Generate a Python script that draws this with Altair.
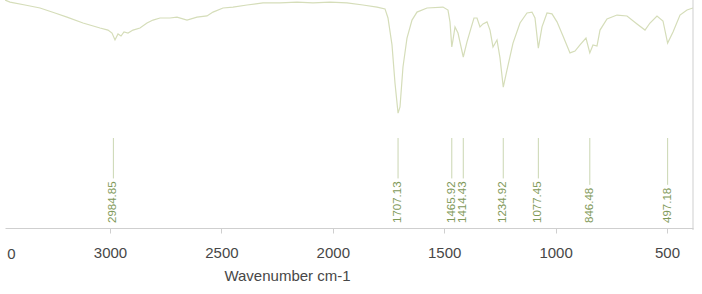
import altair as alt
import pandas as pd

# Spectrum (wavenumber cm-1, transmittance %)
wavenumber = [3471.3, 3448.8, 3381.5, 3314.2, 3246.9, 3193.0, 3121.2, 3044.9, 3009.0, 2991.0,
              2977.6, 2964.1, 2950.6, 2937.2, 2919.2, 2896.8, 2865.4, 2834.0, 2807.0, 2775.6,
              2730.7, 2699.3, 2654.4, 2609.5, 2564.6, 2537.7, 2492.8, 2447.9, 2385.1, 2313.3,
              2237.0, 2160.7, 2088.9, 2012.6, 1936.3, 1864.5, 1801.6, 1765.7, 1752.3, 1734.3,
              1720.9, 1707.13, 1698.4, 1685.0, 1667.0, 1644.5, 1622.1, 1577.2, 1505.4, 1483.0,
              1474.0, 1465.92, 1460.5, 1451.5, 1438.1, 1414.43, 1397.7, 1379.7, 1366.3, 1352.8,
              1339.3, 1325.9, 1307.9, 1294.4, 1281.0, 1263.0, 1249.6, 1234.92, 1218.1, 1191.2,
              1159.8, 1128.4, 1105.9, 1092.5, 1077.45, 1061.0, 1038.6, 1016.2, 993.7, 966.8,
              935.4, 912.9, 890.5, 863.6, 846.48, 832.2, 814.2, 800.7, 769.3, 724.4,
              679.5, 634.6, 598.7, 576.3, 544.9, 518.0, 497.18, 473.0, 441.6, 410.2, 383.3]
transmittance = [100.0, 99.1, 97.8, 96.5, 94.3, 92.5, 89.9, 87.7, 86.8, 85.5,
                 82.5, 85.1, 84.2, 86.0, 85.5, 86.8, 87.7, 89.9, 91.2, 92.1,
                 92.1, 92.5, 91.2, 92.5, 93.0, 94.7, 96.5, 96.9, 97.8, 98.7,
                 98.7, 99.1, 98.7, 99.1, 98.7, 97.8, 96.9, 96.1, 92.1, 80.3,
                 63.6, 50.4, 53.1, 70.6, 83.3, 91.2, 94.7, 96.5, 96.9, 95.6,
                 90.4, 79.4, 82.5, 88.2, 85.5, 75.0, 81.6, 87.7, 92.1, 92.1,
                 88.2, 89.5, 90.4, 86.8, 79.4, 82.5, 74.6, 61.8, 69.3, 81.1,
                 89.9, 94.3, 94.7, 92.1, 78.9, 88.2, 94.3, 93.9, 90.4, 84.2,
                 76.8, 77.6, 80.3, 83.3, 76.8, 80.3, 79.8, 86.8, 91.7, 93.4,
                 93.0, 89.5, 86.8, 89.9, 93.0, 90.8, 81.1, 86.0, 93.4, 95.6, 96.5]

# Annotated peaks
peaks = [2984.85, 1707.13, 1465.92, 1414.43, 1234.92, 1077.45, 846.48, 497.18]
peak_labels = ["2984.85", "1707.13", "1465.92", "1414.43", "1234.92", "1077.45", "846.48", "497.18"]

# Axis ticks
tick_values = [3000, 2500, 2000, 1500, 1000, 500]
tick_labels = ["3000", "2500", "2000", "1500", "1000", "500"]

X_MIN, X_MAX = 383.3, 3471.3
FONT = "Liberation Sans"
LABEL_FS = 11.5
LABEL_BOTTOM = 223
RULE_TOP = 138

spec = pd.DataFrame({"w": wavenumber, "t": transmittance})


def label_len(s):
    return sum(0.278 * LABEL_FS if ch == "." else 0.556 * LABEL_FS for ch in s)


pk = pd.DataFrame({"w": peaks, "label": peak_labels})
pk["ry1"] = RULE_TOP
pk["ry2"] = [LABEL_BOTTOM - label_len(s) - 3 for s in peak_labels]
ticks = pd.DataFrame({"w": tick_values, "label": tick_labels})

xscale = alt.Scale(domain=[X_MIN, X_MAX], reverse=True, nice=False, zero=False)

line = alt.Chart(spec).mark_line(color="#d5ddb9", strokeWidth=1.2, clip=True).encode(
    x=alt.X("w:Q", scale=xscale,
            axis=alt.Axis(values=tick_values, format="d", title="Wavenumber cm-1", grid=False,
                          domainColor="#cfcfcf", tickColor="#cfcfcf", tickSize=5,
                          labelFontSize=15, labelColor="#474747", labelFont=FONT,
                          labelPadding=12, labelFlush=False,
                          titleFont=FONT, titleFontSize=15, titleFontWeight="normal",
                          titleColor="#474747", titleX=282, titleY=47,
                          titleBaseline="middle", titleAlign="center")),
    y=alt.Y("t:Q", scale=alt.Scale(domain=[0, 100]), axis=None),
)

rules = alt.Chart(pk).mark_rule(color="#cad6b2", strokeWidth=1).encode(
    x=alt.X("w:Q", scale=xscale),
    y=alt.Y("ry1:Q", scale=None, axis=None),
    y2=alt.Y2("ry2:Q"),
)

labels = alt.Chart(pk).mark_text(angle=270, align="left", baseline="middle",
                                 fontSize=LABEL_FS, font=FONT, color="#7f9959").encode(
    x=alt.X("w:Q", scale=xscale),
    y=alt.value(LABEL_BOTTOM),
    text="label:N",
)

frame = alt.Chart(pd.DataFrame({"w": [X_MIN]})).mark_rule(color="#cfcfcf").encode(
    x=alt.X("w:Q", scale=xscale),
    y=alt.value(0),
    y2=alt.value(230),
)

# cropped top-axis labels of the original page (only their lowest edge shows)
top_labels = alt.Chart(ticks).mark_text(fontSize=15, font=FONT, color="#8a8a8a",
                                        baseline="middle").encode(
    x=alt.X("w:Q", scale=xscale),
    y=alt.value(-6),
    text="label:N",
)

left_fragment = alt.Chart(pd.DataFrame({"w": [3500], "label": ["0"]})).mark_text(
    fontSize=15, font=FONT, color="#474747", align="right", baseline="middle", dx=17
).encode(
    x=alt.X("w:Q", scale=xscale),
    y=alt.value(254),
    text="label:N",
)

chart = alt.layer(line, rules, labels, frame, top_labels, left_fragment).resolve_scale(
    y="independent"
).properties(
    width=688, height=228,
    padding={"left": 5, "top": 0, "right": 9, "bottom": 66},
    autosize=alt.AutoSizeParams(type="none"),
    background="white",
).configure_view(stroke=None)

chart.save("out.html", embed_options={"renderer": "svg", "actions": False})
